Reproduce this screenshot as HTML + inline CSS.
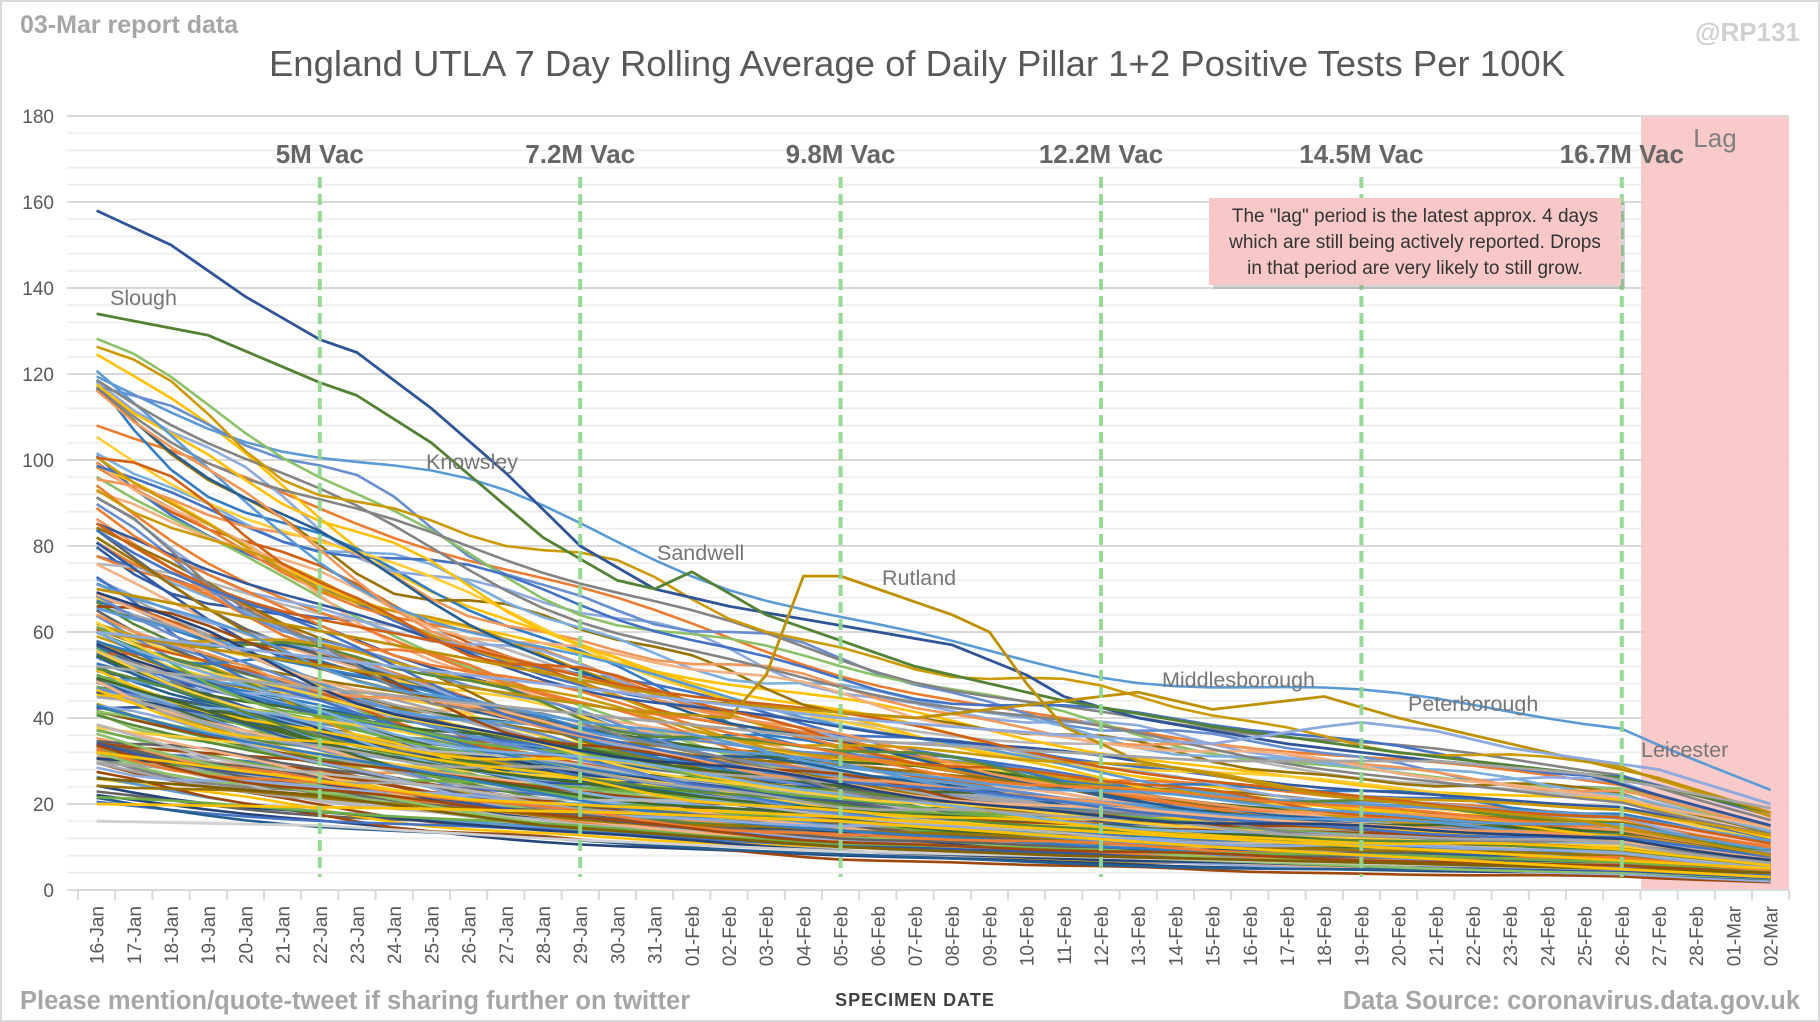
<!DOCTYPE html>
<html><head><meta charset="utf-8"><style>
html,body{margin:0;padding:0;background:#fff}
svg{display:block}
text{font-family:"Liberation Sans",sans-serif}
</style></head><body>
<svg id="s" width="1820" height="1022" xmlns="http://www.w3.org/2000/svg">
<rect x="1" y="1" width="1818" height="1020" fill="#fff" stroke="#d9d9d9" stroke-width="2"/>
<g id="grid"></g>
<rect x="1641" y="117" width="148" height="773" fill="#f8c4c4" opacity="0.9"/>
<g id="lines"></g>
<g id="vac"></g>
<g id="axis"></g>
<text x="20" y="33" font-size="25" font-weight="bold" fill="#a6a6a6">03-Mar report data</text>
<text x="1800" y="41" font-size="26" font-weight="bold" fill="#d0d0d0" text-anchor="end">@RP131</text>
<text x="917" y="76" font-size="36.5" fill="#595959" text-anchor="middle">England UTLA 7 Day Rolling Average of Daily Pillar 1+2 Positive Tests Per 100K</text>
<text x="1715" y="147" font-size="26" fill="#7f7f7f" text-anchor="middle">Lag</text>
<rect x="1213" y="202" width="412" height="87" fill="#888" opacity="0.35"/>
<rect x="1209" y="198" width="412" height="87" fill="#f8c8c8"/>
<text font-size="19" fill="#333" text-anchor="middle"><tspan x="1415" y="222">The "lag" period is the latest approx. 4 days</tspan><tspan x="1415" y="248">which are still being actively reported.  Drops</tspan><tspan x="1415" y="274">in that period are very likely to still grow.</tspan></text>
<g font-size="21.5" fill="#767676">
<text x="110" y="305">Slough</text>
<text x="426" y="469">Knowsley</text>
<text x="657" y="560">Sandwell</text>
<text x="882" y="585">Rutland</text>
<text x="1162" y="687">Middlesborough</text>
<text x="1408" y="711">Peterborough</text>
<text x="1641" y="757">Leicester</text>
</g>
<text x="20" y="1009" font-size="25.5" font-weight="bold" fill="#a6a6a6">Please mention/quote-tweet if sharing further on twitter</text>
<text x="915" y="1006" font-size="18" font-weight="bold" fill="#404040" text-anchor="middle" letter-spacing="1">SPECIMEN DATE</text>
<text x="1800" y="1009" font-size="25.5" font-weight="bold" fill="#a6a6a6" text-anchor="end">Data Source: coronavirus.data.gov.uk</text>
</svg>
<script>
var NS="http://www.w3.org/2000/svg";
function el(t,a,p,txt){var e=document.createElementNS(NS,t);for(var k in a)e.setAttribute(k,a[k]);if(txt!=null)e.textContent=txt;p.appendChild(e);return e;}
var X0=78,DX=37.2,Y0=890,SY=4.3;
function Y(v){return Y0-v*SY;}
function CX(i){return X0+DX*(i+0.5);}
var grid=document.getElementById('grid'),ax=document.getElementById('axis'),L=document.getElementById('lines'),vac=document.getElementById('vac');
for(var v=4;v<=180;v+=4){var major=v%20==0;el('line',{x1:67,x2:1789,y1:Y(v),y2:Y(v),stroke:major?'#d9d9d9':'#efefef','stroke-width':2},grid);}
for(var v=0;v<=180;v+=20)el('text',{x:54,y:Y(v)+7,'font-size':19,fill:'#595959','text-anchor':'end'},ax,String(v));
el('line',{x1:67,x2:1789,y1:Y0,y2:Y0,stroke:'#d9d9d9','stroke-width':2},ax);
var dates=[];for(var d=16;d<=31;d++)dates.push(d+'-Jan');for(var d=1;d<=28;d++)dates.push((d<10?'0':'')+d+'-Feb');dates.push('01-Mar','02-Mar');
for(var i=0;i<=46;i++){var x=X0+DX*i;el('line',{x1:x,x2:x,y1:Y0,y2:Y0+10,stroke:'#d9d9d9','stroke-width':2},ax);}
for(var i=0;i<46;i++){var x=CX(i)+7;el('text',{x:x,y:906,'font-size':19,fill:'#595959','text-anchor':'end',transform:'rotate(-90 '+x+' 906)'},ax,dates[i]);}
var seed=12345;function R(){seed=(seed*16807)%2147483647;return (seed-1)/2147483646;}
var pal=['#4472c4','#ed7d31','#a5a5a5','#ffc000','#5b9bd5','#70ad47','#264478','#9e480e','#636363','#997300','#255e91','#43682b','#698ed0','#f1975a','#b7b7b7','#ffcd33','#7cafdd','#8cc168','#335aa1','#d26012','#848484','#cc9a00','#327dc2','#5a8a39','#8faadc','#f4b183'];
function path(vals){var d='';for(var i=0;i<vals.length;i++){var x=CX(i),y=Y(vals[i]);d+=(i?'L':'M')+x.toFixed(1)+' '+y.toFixed(1);}return d;}
function series(s0,fl,k,amp){var v=[],ph=R()*6,ph2=R()*6,f=0.2+R()*0.3;for(var i=0;i<46;i++){var b=fl+(s0-fl)*Math.exp(-k*i);b*=1+amp*Math.sin(ph+i*f)+amp*0.5*Math.sin(ph2+i*f*2.3);if(i>=42)b*=1-0.08*(i-41);v.push(Math.max(1.5,b));}return v;}
for(var n=0;n<190;n++){var r=R();var s0=r<0.1?20+R()*15:(r<0.75?30+R()*40:70+R()*55);var fl=1.5+R()*9*(s0/90);var k=0.035+R()*0.04;var c=pal[n%pal.length];
el('path',{d:path(series(s0,fl,k,0.03+R()*0.03)),fill:'none',stroke:c,'stroke-width':2.6,'stroke-linejoin':'round'},L);}
function sp(pts,c){var v=[];for(var i=0;i<46;i++){for(var j=0;j<pts.length-1;j++)if(i>=pts[j][0]&&i<=pts[j+1][0]){var a=pts[j],b=pts[j+1],t=(i-a[0])/(b[0]-a[0]);v.push(a[1]+(b[1]-a[1])*t);break;}}el('path',{d:path(v),fill:'none',stroke:c,'stroke-width':2.8,'stroke-linejoin':'round'},L);}
sp([[0,158],[2,150],[4,138],[5,133],[6,128],[7,125],[9,112],[11,97],[13,80],[15,70],[17,66],[19,63],[21,60],[23,57],[25,50],[26,45],[28,40],[32,34],[36,30],[40,27],[42,22],[45,15]],'#2f5597');
sp([[0,134],[3,129],[6,118],[7,115],[9,104],[12,82],[14,72],[15,70],[16,74],[18,64],[22,52],[26,44],[30,38],[35,32],[41,26],[45,18]],'#548235');
sp([[0,60],[14,42],[17,40],[18,50],[19,73],[20,73],[21,70],[23,64],[24,60],[25,48],[26,38],[28,30],[33,22],[40,16],[45,8]],'#bf9000');
sp([[0,70],[16,44],[22,40],[26,44],[28,46],[30,42],[32,44],[33,45],[35,40],[38,34],[42,26],[45,18]],'#bf9000');
sp([[0,60],[20,40],[26,36],[30,34],[33,38],[34,39],[36,37],[38,33],[42,28],[45,20]],'#8faadc');
sp([[0,52],[20,35],[30,30],[36,30],[40,27],[42,24],[45,19]],'#a5a5a5');
sp([[0,16],[6,15],[12,12],[20,9],[30,7],[45,4]],'#d0d0d0');
sp([[0,26],[6,22],[12,15],[20,10],[26,8],[36,6],[45,4]],'#7f6000');
sp([[0,32],[10,21],[20,17],[30,12],[45,5]],'#ffc000');
sp([[0,20],[8,19],[14,18],[20,16],[30,10],[45,3]],'#ffc000');
var vacs=[[6,'5M Vac'],[13,'7.2M Vac'],[20,'9.8M Vac'],[27,'12.2M Vac'],[34,'14.5M Vac'],[41,'16.7M Vac']];
vacs.forEach(function(p){var x=CX(p[0]);el('line',{x1:x,x2:x,y1:177,y2:877,stroke:'#92d892','stroke-width':4,'stroke-dasharray':'11 6',opacity:0.95},vac);
el('text',{x:x,y:163,'font-size':26,'font-weight':'bold',fill:'#666','text-anchor':'middle'},vac,p[1]);});
</script>
</body></html>
